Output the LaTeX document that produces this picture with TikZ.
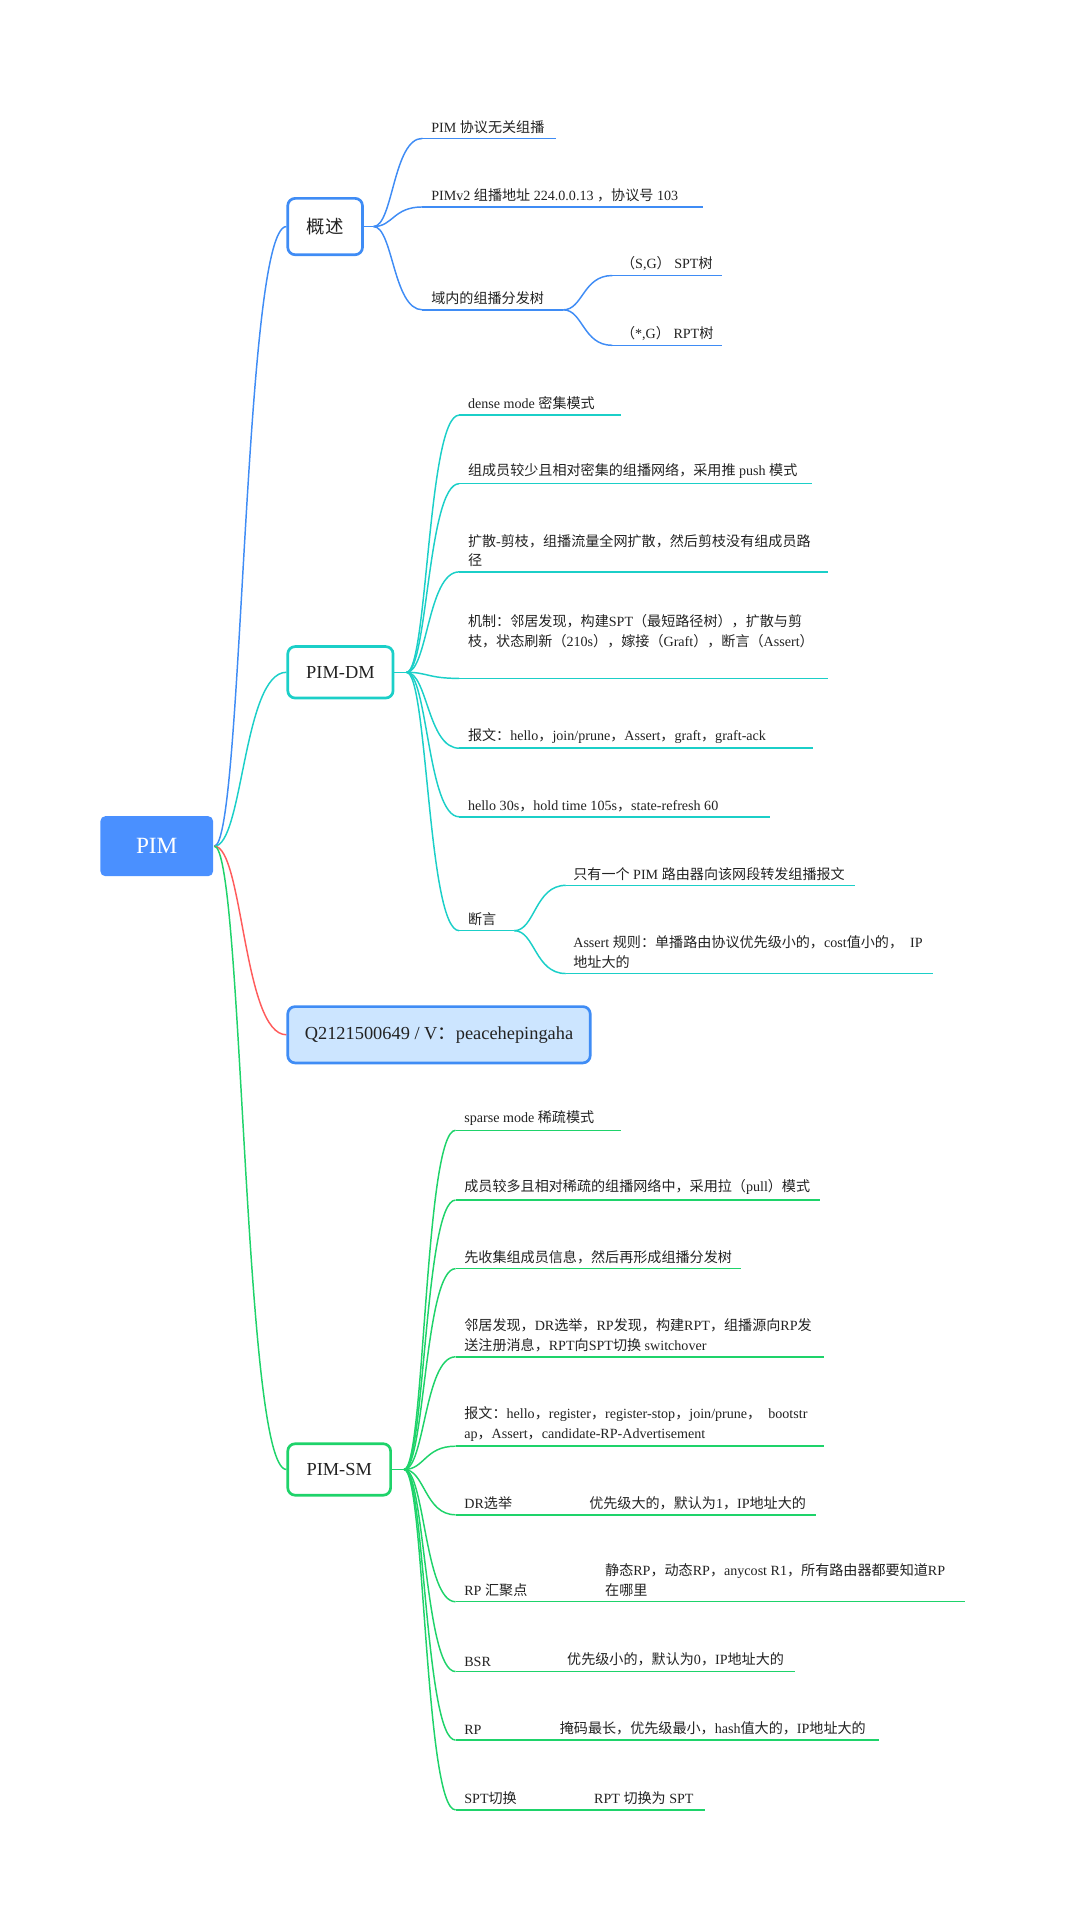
\documentclass[tikz,border=0pt]{standalone}
\usepackage{fontspec}
\setmainfont{Liberation Serif}
\newfontfamily\cjk{Noto Sans CJK SC}
\usetikzlibrary{calc}
\XeTeXinterchartokenstate=1
\newXeTeXintercharclass\CJKcls
\makeatletter
\count@="3000 \loop \XeTeXcharclass\count@=\CJKcls \advance\count@ 1 \ifnum\count@<"3040 \repeat
\count@="4E00 \loop \XeTeXcharclass\count@=\CJKcls \advance\count@ 1 \ifnum\count@<"A000 \repeat
\count@="FF00 \loop \XeTeXcharclass\count@=\CJKcls \advance\count@ 1 \ifnum\count@<"FFF0 \repeat
\makeatother
\XeTeXinterchartoks 0 \CJKcls = {\begingroup\cjk}
\XeTeXinterchartoks 4095 \CJKcls = {\begingroup\cjk}
\XeTeXinterchartoks \CJKcls 0 = {\endgroup}
\XeTeXinterchartoks \CJKcls 4095 = {\endgroup}
\definecolor{cblue}{HTML}{3F8CF5}
\definecolor{cteal}{HTML}{1BCFC8}
\definecolor{cgreen}{HTML}{1ED36A}
\definecolor{cred}{HTML}{FF5C5C}
\definecolor{rootfill}{HTML}{4A90FF}
\definecolor{qfill}{HTML}{CCE5FF}
\definecolor{txt}{HTML}{222222}
\tikzset{
 leaftext/.style={inner xsep=0pt,inner ysep=4pt,align=left,text=txt,font=\fontsize{11.5}{16}\selectfont},
 topic/.style={draw,line width=2.2pt,rounded corners=6pt,fill=white,text=txt,inner sep=0pt},
 br/.style={line width=1.2pt}
}
\newcommand\conn[3]{\draw[br,#3] let \p1=(#1), \p2=(#2) in (#1) .. controls ({\x1+0.4*\x2-0.4*\x1},\y1) and ({\x1+0.4*\x2-0.4*\x1},\y2) .. (#2);}
% name parent x y xend color textx text
\newcommand\leaf[8]{%
 \coordinate (#1s) at (#3,#4); \coordinate (#1e) at (#5,#4);
 \node[leaftext,anchor=south west] (#1) at (#7,#4) {#8};
 \conn{#2}{#1s}{#6}
 \draw[br,#6] (#1s) -- (#1e);}
\begin{document}
\begin{tikzpicture}[x=1pt,y=-1pt]
\useasboundingbox (0,0) rectangle (880,1572);
% root
\node[fill=rootfill,rounded corners=4pt,minimum width=92pt,minimum height=49pt,text=white,font=\fontsize{19}{22}\selectfont] (root) at (128,691) {PIM};
\node[topic,draw=cblue,minimum width=61pt,minimum height=46pt,font=\fontsize{15}{18}\selectfont] (gs) at (265.5,185) {概述};
\node[topic,draw=cteal,minimum width=86pt,minimum height=42pt,font=\fontsize{15}{18}\selectfont] (dm) at (278,549) {PIM-DM};
\node[topic,draw=cblue,fill=qfill,minimum width=247pt,minimum height=46pt,font=\fontsize{15}{18}\selectfont] (q) at (358.5,845) {Q2121500649 / V：peacehepingaha};
\node[topic,draw=cgreen,minimum width=84pt,minimum height=42pt,font=\fontsize{15}{18}\selectfont] (sm) at (277,1200) {PIM-SM};
\coordinate (r0) at (175,691);
\conn{r0}{gs.west}{cblue}
\conn{r0}{dm.west}{cteal}
\conn{r0}{q.west}{cred}
\conn{r0}{sm.west}{cgreen}
% overview
\coordinate (gsp) at (305,185); \draw[br,cblue] (gs.east) -- (gsp);
\leaf{a1}{gsp}{345}{113}{454}{cblue}{352}{PIM 协议无关组播}
\leaf{a2}{gsp}{345}{169}{574}{cblue}{352}{PIMv2 组播地址 224.0.0.13 ，协议号 103}
\leaf{a3}{gsp}{345}{253}{460}{cblue}{352}{域内的组播分发树}
\leaf{a31}{a3e}{500}{225}{590}{cblue}{507}{（S,G）\ SPT树}
\leaf{a32}{a3e}{500}{282}{590}{cblue}{507}{（*,G）\ RPT树}
% DM
\coordinate (dmp) at (332,549); \draw[br,cteal] (dm.east) -- (dmp);
\leaf{d1}{dmp}{375}{339}{507}{cteal}{382}{dense mode 密集模式}
\leaf{d2}{dmp}{375}{395}{663}{cteal}{382}{组成员较少且相对密集的组播网络，采用推 push 模式}
\leaf{d3}{dmp}{375}{467}{676}{cteal}{382}{扩散-剪枝，组播流量全网扩散，然后剪枝没有组成员路\\径}
\leaf{d4}{dmp}{375}{554}{676}{cteal}{382}{机制：邻居发现，构建SPT（最短路径树），扩散与剪\\枝，状态刷新（210s），嫁接（Graft），断言（Assert）\\[6pt]}
\leaf{d5}{dmp}{375}{611}{664}{cteal}{382}{报文：hello，join/prune，Assert，graft，graft-ack}
\leaf{d6}{dmp}{375}{667}{629}{cteal}{382}{hello 30s，hold time 105s，state-refresh 60}
\leaf{d7}{dmp}{375}{760}{420}{cteal}{382}{断言}
\leaf{d71}{d7e}{462}{723}{698}{cteal}{468}{只有一个 PIM 路由器向该网段转发组播报文}
\leaf{d72}{d7e}{462}{795}{762}{cteal}{468}{Assert 规则：单播路由协议优先级小的，cost值小的，\ \ IP\\地址大的}
% SM
\coordinate (smp) at (330,1200); \draw[br,cgreen] (sm.east) -- (smp);
\leaf{s1}{smp}{372}{923}{507}{cgreen}{379}{sparse mode 稀疏模式}
\leaf{s2}{smp}{372}{980}{670}{cgreen}{379}{成员较多且相对稀疏的组播网络中，采用拉（pull）模式}
\leaf{s3}{smp}{372}{1036}{605}{cgreen}{379}{先收集组成员信息，然后再形成组播分发树}
\leaf{s4}{smp}{372}{1108}{673}{cgreen}{379}{邻居发现，DR选举，RP发现，构建RPT，组播源向RP发\\送注册消息，RPT向SPT切换 switchover}
\leaf{s5}{smp}{372}{1181}{673}{cgreen}{379}{报文：hello，register，register-stop，join/prune，\ \ bootstr\\ap，Assert，candidate-RP-Advertisement}
\leaf{s6}{smp}{372}{1237}{427}{cgreen}{379}{DR选举}
\leaf{s61}{s6e}{427}{1237}{666}{cgreen}{481}{优先级大的，默认为1，IP地址大的}
\leaf{s7}{smp}{372}{1308}{437}{cgreen}{379}{RP 汇聚点}
\leaf{s71}{s7e}{437}{1308}{788}{cgreen}{494}{静态RP，动态RP，anycost R1，所有路由器都要知道RP\\在哪里}
\leaf{s8}{smp}{372}{1365}{410}{cgreen}{379}{BSR}
\leaf{s81}{s8e}{410}{1365}{649}{cgreen}{463}{优先级小的，默认为0，IP地址大的}
\leaf{s9}{smp}{372}{1421}{397}{cgreen}{379}{RP}
\leaf{s91}{s9e}{397}{1421}{718}{cgreen}{457}{掩码最长，优先级最小，hash值大的，IP地址大的}
\leaf{s10}{smp}{372}{1478}{427}{cgreen}{379}{SPT切换}
\leaf{s101}{s10e}{427}{1478}{576}{cgreen}{485}{RPT 切换为 SPT}
\end{tikzpicture}
\end{document}
